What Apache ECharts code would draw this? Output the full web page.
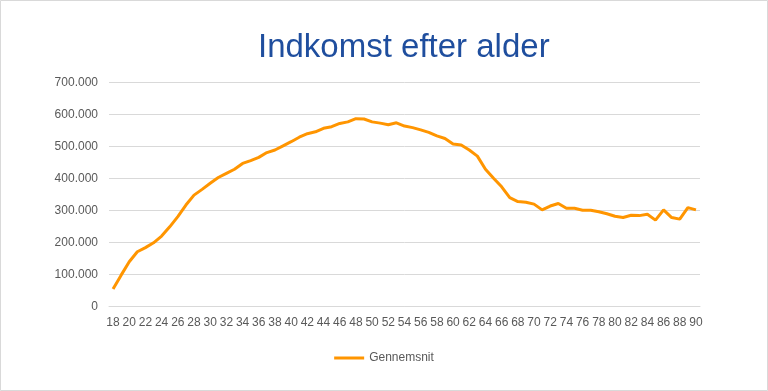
<!DOCTYPE html>
<html>
<head>
<meta charset="utf-8">
<script src="https://cdn.jsdelivr.net/npm/echarts@6/dist/echarts.min.js"></script>
<style>
  html, body { margin: 0; padding: 0; background: #fff; }
  #echarts { width: 768px; height: 391px; }
</style>
</head>
<body>
<div id="echarts"></div>
<script>
var myChart = echarts.init(document.getElementById('echarts'));

// alder 18..90
var ages = [];
for (var a = 18; a <= 90; a++) ages.push(String(a));

// gennemsnitlig indkomst pr. alder (aflæst)
var gennemsnit = [
  55000, 98000, 140000, 171000, 184000, 199000, 220000, 249000, 281000, 317000,
  348000, 366000, 385000, 403000, 416000, 429000, 447000, 456000, 466000, 481000,
  489000, 502000, 515000, 529000, 540000, 546000, 557000, 562000, 572000, 577000,
  587000, 586000, 577000, 573000, 568000, 574000, 564000, 559000, 552000, 544000,
  533000, 525000, 508000, 505000, 489000, 470000, 429000, 401000, 374000, 340000,
  328000, 326000, 320000, 302000, 314000, 322000, 307000, 307000, 301000, 301000,
  296000, 290000, 282000, 278000, 285000, 284000, 288000, 270000, 302000, 278000,
  273000, 309000, 302000
];

var yTicks = [0, 100000, 200000, 300000, 400000, 500000, 600000, 700000];

function fmt(v) {
  return String(v).replace(/\B(?=(\d{3})+(?!\d))/g, '.');
}

option = {
  backgroundColor: '#fff',
  animation: false,
  textStyle: { fontFamily: 'Liberation Sans' },
  graphic: [{
    type: 'rect',
    shape: { x: 0.5, y: 0.5, width: 767, height: 390 },
    style: { fill: 'none', stroke: '#d9d9d9', lineWidth: 1 },
    silent: true
  }],
  title: {
    text: 'Indkomst efter alder',
    left: 253,
    top: 26,
    textStyle: {
      color: '#1f4e9e',
      fontSize: 33,
      fontWeight: 'normal',
      fontFamily: 'Liberation Sans'
    }
  },
  legend: {
    bottom: 22,
    left: 'center',
    itemWidth: 30,
    itemHeight: 3,
    itemGap: 5,
    icon: 'rect',
    textStyle: { color: '#595959', fontSize: 12 },
    data: ['Gennemsnit']
  },
  grid: { left: 109, right: 68, top: 82.5, bottom: 84.5, containLabel: false },
  xAxis: {
    type: 'category',
    boundaryGap: true,
    data: ages,
    axisLine: { show: true, lineStyle: { color: '#d9d9d9' } },
    axisTick: { show: false },
    axisLabel: {
      color: '#595959',
      fontSize: 12,
      interval: 1,
      margin: 10
    }
  },
  yAxis: {
    type: 'value',
    min: yTicks[0],
    max: yTicks[yTicks.length - 1],
    interval: 100000,
    axisLine: { show: false },
    axisTick: { show: false },
    splitLine: { lineStyle: { color: '#d9d9d9' } },
    axisLabel: {
      color: '#595959',
      fontSize: 12,
      margin: 11,
      formatter: function (v) { return fmt(v); }
    }
  },
  series: [{
    name: 'Gennemsnit',
    type: 'line',
    data: gennemsnit,
    symbol: 'none',
    lineStyle: { color: '#ff9500', width: 3 },
    itemStyle: { color: '#ff9500' }
  }]
};
myChart.setOption(option);
</script>
</body>
</html>
